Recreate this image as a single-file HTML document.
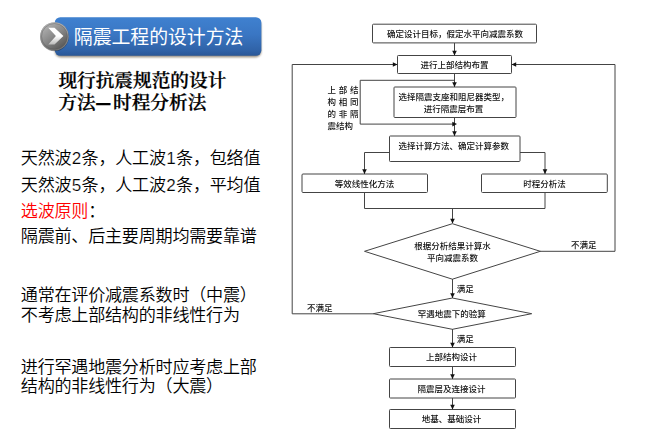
<!DOCTYPE html>
<html lang="zh-CN">
<head>
<meta charset="utf-8">
<title>隔震工程的设计方法</title>
<style>
html,body{margin:0;padding:0;background:#fff;}
body{width:668px;height:446px;position:relative;overflow:hidden;font-family:"Liberation Sans","Noto Sans CJK SC",sans-serif;}
.abs{position:absolute;white-space:nowrap;}
#btxt{left:73.8px;top:19px;height:38px;line-height:38px;color:#fff;font-size:18.85px;font-weight:400;}
#head{left:58.4px;top:70.1px;-webkit-text-stroke:0.25px #000;font-family:"Liberation Serif","Noto Serif CJK SC",serif;font-weight:600;font-size:18.67px;line-height:22px;color:#000;}
.body{left:20.8px;font-size:17.1px;letter-spacing:-0.25px;font-weight:350;line-height:26.5px;color:#000;}
.dash{display:inline-block;width:17.3px;transform-origin:0 50%;transform:translate(0.3px,-2px) scale(.75,1.5);}
.red{color:#f00;}
.d{padding:0 .5px;-webkit-text-stroke:0.22px #fff;}
#flow{left:0;top:0;width:668px;height:446px;will-change:transform;}
#flow text{font-family:"Liberation Sans","Noto Sans CJK SC",sans-serif;font-size:8.5px;fill:#111;font-weight:500;}
</style>
</head>
<body>
<svg class="abs" id="bannersvg" viewBox="0 0 300 70" style="left:0;top:0;width:300px;height:70px;">
  <defs>
    <linearGradient id="bg0" x1="0" y1="0" x2="0" y2="1">
      <stop offset="0" stop-color="#3f81d0"/>
      <stop offset="0.45" stop-color="#3a76c3"/>
      <stop offset="0.85" stop-color="#3063a8"/>
      <stop offset="1" stop-color="#2a5797"/>
    </linearGradient>
    <linearGradient id="g0" x1="0" y1="0" x2="0" y2="1">
      <stop offset="0" stop-color="#b2b2b2"/>
      <stop offset="1" stop-color="#707070"/>
    </linearGradient>
    <linearGradient id="g1" x1="0.15" y1="0.1" x2="0.8" y2="0.95">
      <stop offset="0" stop-color="#aeaeae"/>
      <stop offset="0.5" stop-color="#868686"/>
      <stop offset="1" stop-color="#585858"/>
    </linearGradient>
    <linearGradient id="g2" x1="0" y1="0" x2="0" y2="1">
      <stop offset="0" stop-color="#ffffff"/>
      <stop offset="0.5" stop-color="#ffffff"/>
      <stop offset="1" stop-color="#b9b9b9"/>
    </linearGradient>
    <filter id="bsh" x="-20%" y="-20%" width="140%" height="140%">
      <feGaussianBlur stdDeviation="0.7"/>
    </filter>
  
    <filter id="bs0" x="-10%" y="-30%" width="120%" height="170%">
      <feGaussianBlur stdDeviation="1.3"/>
    </filter>
  </defs>
  <rect x="55.1" y="19.6" width="206" height="37.6" rx="5.5" fill="#3a2a10" opacity=".55" filter="url(#bs0)"/>
  <rect x="54.8" y="17.25" width="206.6" height="38.5" rx="5.5" fill="url(#bg0)"/>
  <g transform="translate(38.5,20.4)">
  <circle cx="16" cy="16.4" r="14.4" fill="#000" opacity=".35" filter="url(#bsh)"/>
  <circle cx="16" cy="16" r="14.2" fill="url(#g0)"/>
  <circle cx="16" cy="16" r="12.9" fill="url(#g1)" stroke="#505050" stroke-opacity=".55" stroke-width="0.6"/>
  <path d="M9.8 7.3 L16 7.3 L24.9 15.6 L16 24.2 L9.8 24.2 L17.4 15.6 Z" fill="url(#g2)"/>
  </g>
</svg>

<div class="abs" id="btxt">隔震工程的设计方法</div>

<div class="abs" id="head">现行抗震规范的设计<br>方法<span class="dash">—</span>时程分析法</div>

<div class="abs body" style="top:146.3px;">天然波<span class="d">2</span>条，人工波<span class="d">1</span>条，包络值</div>
<div class="abs body" style="top:172.8px;">天然波<span class="d">5</span>条，人工波<span class="d">2</span>条，平均值</div>
<div class="abs body" style="top:198.9px;"><span class="red">选波原则</span>：</div>
<div class="abs body" style="top:223.7px;">隔震前、后主要周期均需要靠谱</div>
<div class="abs body" style="top:286px;line-height:20px;">通常在评价减震系数时（中震）<br>不考虑上部结构的非线性行为</div>
<div class="abs body" style="top:357.7px;line-height:19.6px;">进行罕遇地震分析时应考虑上部<br>结构的非线性行为（大震）</div>

<svg class="abs" id="flow" viewBox="0 0 668 446">
  <g fill="#fff" stroke="#444" stroke-width="1">
    <rect x="372.5" y="24.2" width="164" height="18.7" rx="1"/>
    <rect x="397.5" y="55.5" width="114" height="18" rx="0.8"/>
    <rect x="394" y="87" width="122" height="30.5" rx="0.8"/>
    <rect x="389.5" y="136" width="130.5" height="25.5" rx="0.8"/>
    <rect x="302" y="174" width="125.5" height="18.5" rx="1"/>
    <rect x="481.5" y="174" width="125.8" height="18.5" rx="1"/>
    <polygon points="452.4,223.7 540.3,251.3 452.4,279.2 364.5,251.3"/>
    <polygon points="452.4,298 531.7,313.7 452.4,329.3 373.3,313.7"/>
    <rect x="389.5" y="347.5" width="126" height="19" rx="0.8"/>
    <rect x="389.5" y="379" width="126" height="19" rx="0.8"/>
    <rect x="389.5" y="409.5" width="126" height="19" rx="0.8"/>
  </g>
  <g fill="none" stroke="#444" stroke-width="1">
    <path d="M454.5 43 V55"/>
    <path d="M454.5 73.500 V87"/>
    <path d="M454.5 80.300 H360.200 V124.100 H454"/>
    <path d="M454.5 117.500 V136"/>
    <path d="M389.5 152.500 H364.5 V174"/>
    <path d="M520 152.500 H545 V174"/>
    <path d="M364.5 192.500 V208.500 H545 V192.500"/>
    <path d="M452.5 208.500 V223"/>
    <path d="M452.5 279 V298"/>
    <path d="M452.5 329 V347"/>
    <path d="M452.5 366.500 V379"/>
    <path d="M452.5 398 V409.500"/>
    <path d="M540 251.300 H615 V64.500 H512"/>
    <path d="M373.500 313.800 H292.200 V64.500 H397"/>
  </g>
  <g fill="#111" stroke="none">
    <path d="M454.5 55.500 l-2.300 -4.700 h4.600 z"/>
    <path d="M454.5 87 l-2.300 -4.700 h4.600 z"/>
    <path d="M454.5 136 l-2.300 -4.700 h4.600 z"/>
    <path d="M457 124.100 l-4.700 -2.300 v4.600 z"/>
    <path d="M364.5 174 l-2.300 -4.700 h4.600 z"/>
    <path d="M545 174 l-2.300 -4.700 h4.600 z"/>
    <path d="M452.5 223.500 l-2.300 -4.700 h4.600 z"/>
    <path d="M452.5 298 l-2.300 -4.700 h4.600 z"/>
    <path d="M452.5 347.500 l-2.300 -4.700 h4.600 z"/>
    <path d="M452.5 379 l-2.300 -4.700 h4.600 z"/>
    <path d="M452.5 409.500 l-2.300 -4.700 h4.600 z"/>
    <path d="M397.500 64.500 l-4.700 -2.300 v4.600 z"/>
    <path d="M511.500 64.500 l4.700 -2.300 v4.600 z"/>
  </g>
  <g text-anchor="middle">
    <text x="455.100" y="36.700">确定设计目标，假定水平向减震系数</text>
    <text x="454.500" y="68">进行上部结构布置</text>
    <text x="453.800" y="99.500">选择隔震支座和阻尼器类型，</text>
    <text x="453.600" y="111.600">进行隔震层布置</text>
    <text x="453.800" y="148.800">选择计算方法、确定计算参数</text>
    <text x="364.500" y="186.700">等效线性化方法</text>
    <text x="544.500" y="186.700">时程分析法</text>
    <text x="452.500" y="248.800">根据分析结果计算水</text>
    <text x="452.500" y="261.200">平向减震系数</text>
    <text x="451.800" y="316.500">罕遇地震下的验算</text>
    <text x="451.400" y="360">上部结构设计</text>
    <text x="451.400" y="391.500">隔震层及连接设计</text>
    <text x="451.400" y="422">地基、基础设计</text>
  </g>
  <g>
    <text x="327.500" y="93.200" letter-spacing="2.8">上部结</text>
    <text x="327.500" y="105.300" letter-spacing="2.8">构相同</text>
    <text x="327.500" y="117.300" letter-spacing="2.8">的非隔</text>
    <text x="327.500" y="129.300">震结构</text>
    <text x="307" y="311">不满足</text>
    <text x="571" y="248">不满足</text>
    <text x="456.800" y="291.500">满足</text>
    <text x="456.800" y="341.500">满足</text>
  </g>
</svg>
</body>
</html>
